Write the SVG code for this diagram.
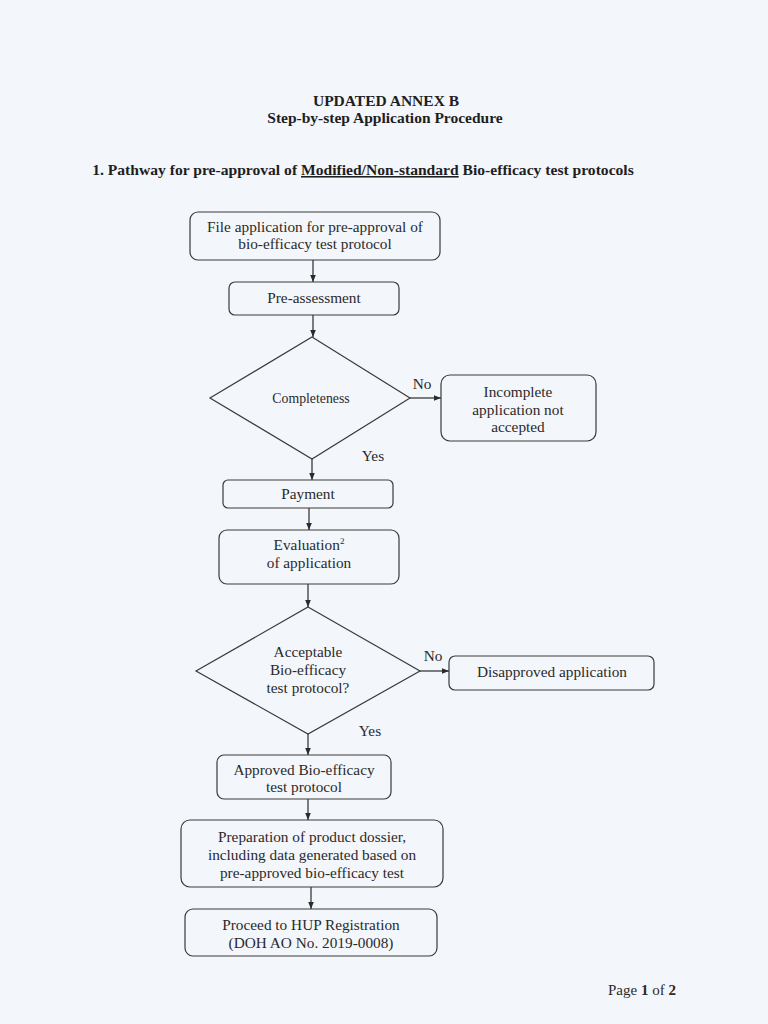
<svg xmlns="http://www.w3.org/2000/svg" width="768" height="1024" viewBox="0 0 768 1024">
<defs>
<marker id="ah" viewBox="0 0 10 10" refX="10" refY="5" markerWidth="7" markerHeight="7" markerUnits="userSpaceOnUse" orient="auto">
<path d="M0,1 L10,5 L0,9 z" fill="#2b2b2b"/>
</marker>
<style>
.bx{fill:none;stroke:#3a3a3a;stroke-width:1.2}
.t{font-family:"Liberation Serif","Times New Roman",serif;font-size:15.3px;fill:#2a2a2a;text-anchor:middle}
.s{font-size:13.8px}
.h{font-family:"Liberation Serif","Times New Roman",serif;font-weight:bold;fill:#1e1e1e;text-anchor:middle}
.c{fill:none;stroke:#2b2b2b;stroke-width:1.2;marker-end:url(#ah)}
</style>
</defs>
<rect width="768" height="1024" fill="#f3f6fb"/>
<text class="h" x="386" y="106" font-size="15.5">UPDATED ANNEX B</text>
<text class="h" x="385" y="123" font-size="15.5">Step-by-step Application Procedure</text>
<text class="h" x="363" y="175" font-size="15.6">1. Pathway for pre-approval of <tspan text-decoration="underline">Modified/Non-standard</tspan> Bio-efficacy test protocols</text>

<g id="connectors">
<line class="c" x1="313" y1="260" x2="313" y2="282"/>
<line class="c" x1="313" y1="315" x2="313" y2="337"/>
<line class="c" x1="410" y1="398" x2="441" y2="398"/>
<line class="c" x1="312" y1="459" x2="312" y2="480"/>
<line class="c" x1="309" y1="508" x2="309" y2="530"/>
<line class="c" x1="308" y1="584" x2="308" y2="607"/>
<line class="c" x1="420" y1="671" x2="449" y2="671"/>
<line class="c" x1="308" y1="734" x2="308" y2="755"/>
<line class="c" x1="308" y1="799" x2="308" y2="820"/>
<line class="c" x1="311" y1="887" x2="311" y2="909"/>
<text class="t" x="422" y="389">No</text>
<text class="t" x="373" y="461">Yes</text>
<text class="t" x="433" y="661">No</text>
<text class="t" x="370" y="736">Yes</text>
</g>

<g id="n1"><rect class="bx" x="190" y="212" width="250" height="48" rx="8"/>
<text class="t" x="315" y="232">File application for pre-approval of</text>
<text class="t" x="315" y="249">bio-efficacy test protocol</text></g>

<g id="n2"><rect class="bx" x="229" y="282" width="170" height="33" rx="6"/>
<text class="t" x="314" y="303">Pre-assessment</text></g>

<g id="n3"><polygon class="bx" points="312,337 410,398 312,459 210,398"/>
<text class="t s" x="311" y="403">Completeness</text></g>

<g id="n4"><rect class="bx" x="441" y="375" width="155" height="66" rx="9"/>
<text class="t" x="518" y="397">Incomplete</text>
<text class="t" x="518" y="415">application not</text>
<text class="t" x="518" y="432">accepted</text></g>

<g id="n5"><rect class="bx" x="223" y="480" width="170" height="28" rx="5"/>
<text class="t" x="308" y="499">Payment</text></g>

<g id="n6"><rect class="bx" x="219" y="530" width="180" height="54" rx="8"/>
<text class="t" x="309" y="550">Evaluation<tspan font-size="9" dy="-6">2</tspan></text>
<text class="t" x="309" y="568" dy="0">of application</text></g>

<g id="n7"><polygon class="bx" points="308,607 420,671 308,734 196,671"/>
<text class="t" x="308" y="657">Acceptable</text>
<text class="t" x="308" y="675">Bio-efficacy</text>
<text class="t" x="308" y="693">test protocol?</text></g>

<g id="n8"><rect class="bx" x="449" y="656" width="205" height="34" rx="6"/>
<text class="t" x="552" y="677">Disapproved application</text></g>

<g id="n9"><rect class="bx" x="217" y="755" width="174" height="44" rx="7"/>
<text class="t" x="304" y="775">Approved Bio-efficacy</text>
<text class="t" x="304" y="792">test protocol</text></g>

<g id="n10"><rect class="bx" x="181" y="820" width="262" height="67" rx="9"/>
<text class="t" x="312" y="842">Preparation of product dossier,</text>
<text class="t" x="312" y="860">including data generated based on</text>
<text class="t" x="312" y="878">pre-approved bio-efficacy test</text></g>

<g id="n11"><rect class="bx" x="185" y="909" width="252" height="47" rx="8"/>
<text class="t" x="311" y="930">Proceed to HUP Registration</text>
<text class="t" x="311" y="948">(DOH AO No. 2019-0008)</text></g>

<text x="642" y="995" font-family="'Liberation Serif','Times New Roman',serif" font-size="15" fill="#2a2a2a" text-anchor="middle">Page <tspan font-weight="bold">1</tspan> of <tspan font-weight="bold">2</tspan></text>
</svg>
